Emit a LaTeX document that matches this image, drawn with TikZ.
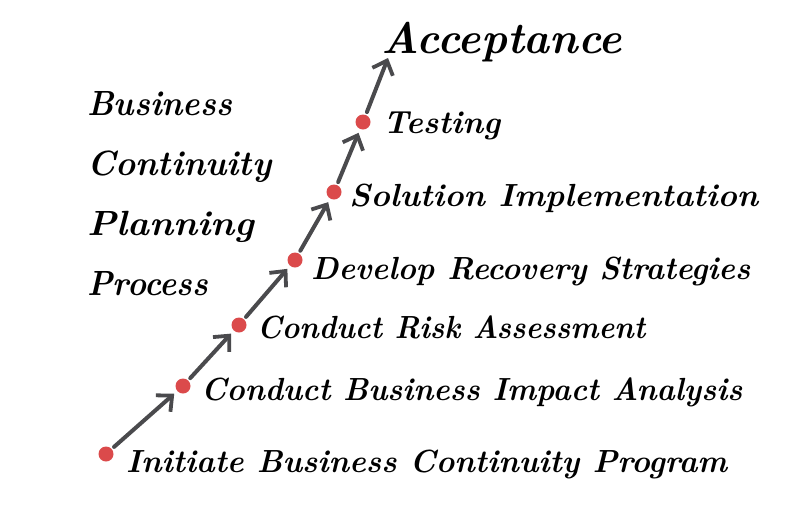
\documentclass[tikz,border=0pt]{standalone}
\usepackage{fontspec}
\usepackage{graphicx}
\usetikzlibrary{arrows.meta}
\definecolor{arrowgray}{HTML}{4A4A4D}
\definecolor{dotred}{HTML}{DB4A4B}
\newcommand{\hw}[3]{\fontsize{#1}{#1}\selectfont\bfseries\itshape\resizebox{#2pt}{\height}{#3}}
\tikzset{
  dotnode/.style={circle, fill=dotred, draw=none, minimum size=15pt, inner sep=0pt},
  lbl/.style={anchor=base west, inner sep=0pt, text=black},
  stepline/.style={draw=arrowgray, line width=4pt, line cap=round,
    -{Straight Barb[length=12pt,width=22pt,line width=3.8pt]},
    shorten <=3pt, shorten >=4pt}
}
\begin{document}
\begin{tikzpicture}[x=1pt,y=-1pt]
\useasboundingbox (0,0) rectangle (800,520);
\fill[white] (0,0) rectangle (800,520);
% dots
\node[dotnode] (d1) at (106,454) {};
\node[dotnode] (d2) at (183,386) {};
\node[dotnode] (d3) at (239,325) {};
\node[dotnode] (d4) at (295,260) {};
\node[dotnode] (d5) at (334,192) {};
\node[dotnode] (d6) at (363,122) {};
\coordinate (top) at (388,58);
% arrows
\draw[stepline] (d1) -- (d2);
\draw[stepline] (d2) -- (d3);
\draw[stepline] (d3) -- (d4);
\draw[stepline] (d4) -- (d5);
\draw[stepline] (d5) -- (d6);
\draw[stepline, shorten >=0pt] (d6) -- (top);
% labels
\node[lbl] (acc) at (381,53) {\hw{44}{241}{Acceptance}};
\node[lbl] (t6) at (383,133) {\hw{32}{117}{Testing}};
\node[lbl] (t5) at (349,206) {\hw{32}{409}{Solution Implementation}};
\node[lbl] (t4) at (311,279) {\hw{32}{439}{Develop Recovery Strategies}};
\node[lbl] (t3) at (257,338) {\hw{32}{388}{Conduct Risk Assessment}};
\node[lbl] (t2) at (201,400) {\hw{32}{541}{Conduct Business Impact Analysis}};
\node[lbl] (t1) at (126,472) {\hw{32}{601}{Initiate Business Continuity Program}};
\node[lbl] (b1) at (87,115) {\hw{35}{145}{Business}};
\node[lbl] (b2) at (87,175) {\hw{35}{184}{Continuity}};
\node[lbl] (b3) at (87,235) {\hw{35}{167}{Planning}};
\node[lbl] (b4) at (87,295) {\hw{35}{121}{Process}};
\end{tikzpicture}
\end{document}
